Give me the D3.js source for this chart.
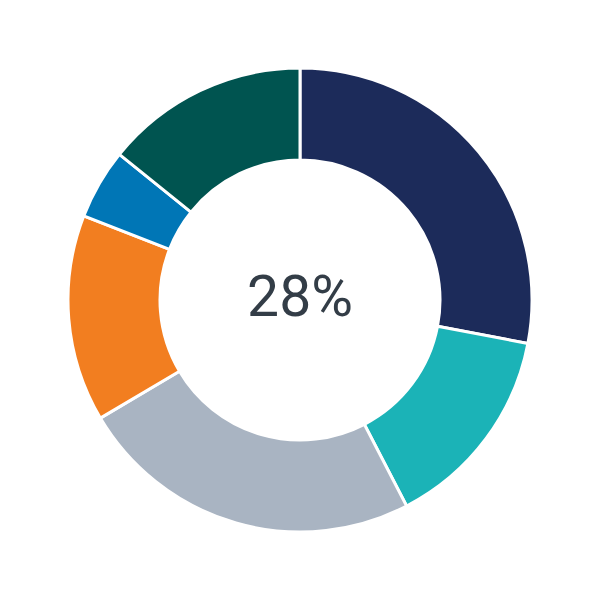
<!DOCTYPE html>
<html>
<head>
<meta charset="utf-8">
<script src="https://cdn.jsdelivr.net/npm/d3@7"></script>
<style>
  html, body { margin: 0; padding: 0; background: #ffffff; }
  svg { display: block; }
</style>
</head>
<body>
<svg id="chart" width="600" height="600"></svg>
<script>
const categories = ["A", "B", "C", "D", "E", "F"];
const values = [28, 14.4, 24.1, 14.4, 4.9, 14.2];
const colors = ["#1c2b5a", "#1bb3b7", "#a9b4c2", "#f27e20", "#0076b6", "#005450"];
const centerLabel = "28%";

const svg = d3.select("#chart");
const cx = 300, cy = 300;
const outerR = 232, innerR = 140;

const data = categories.map((c, i) => ({ category: c, value: values[i] }));

const pie = d3.pie().sort(null).value(d => d.value);
const arc = d3.arc().innerRadius(innerR).outerRadius(outerR);
const color = d3.scaleOrdinal().domain(categories).range(colors);

const g = svg.append("g").attr("transform", `translate(${cx},${cy})`);

g.selectAll("path")
  .data(pie(data))
  .join("path")
  .attr("d", arc)
  .attr("fill", d => color(d.data.category))
  .attr("stroke", "#ffffff")
  .attr("stroke-width", 3)
  .attr("stroke-linejoin", "miter");

g.append("text")
  .attr("x", 0)
  .attr("y", 16)
  .attr("text-anchor", "middle")
  .attr("font-family", "Roboto, sans-serif")
  .attr("font-weight", 400)
  .attr("font-size", 57)
  .attr("fill", "#333d47")
  .text(centerLabel);
</script>
</body>
</html>
